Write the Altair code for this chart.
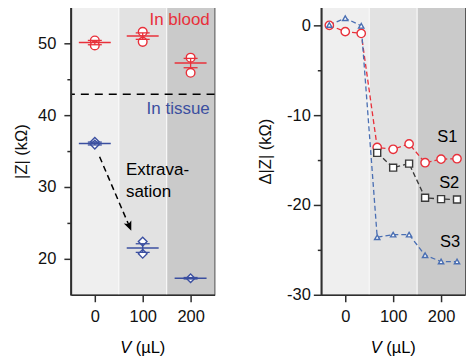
import altair as alt
import pandas as pd

FONT = "Liberation Sans"
RED = "#e8303a"
BLUE_T = "#3b4fa0"
BLUE_S3 = "#4a6fb3"
GRAY = "#3a3a3a"
FRAME = "#2e2e2e"

# ---------------- data ----------------
band_start = [-50, 50, 150]
band_end = [50, 150, 250]
band_color = ["#efefef", "#e2e2e2", "#cacaca"]

volumes = [0, 100, 200]
blood_pt_v = [0, 0, 100, 100, 200, 200]
blood_pt_z = [50.4, 49.7, 51.6, 50.2, 48.0, 45.9]
blood_mean = [50.1, 51.0, 47.25]
blood_err = [0.3, 0.45, 0.65]

tissue_pt_v = [0, 0, 100, 100, 200]
tissue_pt_z = [36.3, 35.9, 22.4, 20.7, 17.3]
tissue_mean = [36.05, 21.5, 17.3]
tissue_err = [0.2, 0.6, 0.1]

threshold = [42.9]

v_steps = [-33.3, 0, 33.3, 66.7, 100, 133.3, 166.7, 200, 233.3]
s1 = [0.0, -0.7, -0.9, -13.6, -13.8, -13.2, -15.3, -14.9, -14.85]
s2 = [None, None, None, -14.2, -15.85, -15.4, -19.2, -19.35, -19.4]
s3 = [0.05, 0.8, -0.05, -23.6, -23.3, -23.3, -25.6, -26.3, -26.3]
series_names = ["S1", "S2", "S3"]

left_notes = ["In blood", "In tissue"]
left_notes_v = [240, 240]
left_notes_z = [53.3, 40.8]
left_notes_c = [RED, BLUE_T]

extra_lines = ["Extrava-", "sation"]
extra_v = [65, 65]
extra_z = [32.3, 29.3]

arrow_start = (10, 34.2)
arrow_head = (71.7, 24.6)

s_label_v = [213, 217, 219]
s_label_d = [-12.4, -17.6, -24.1]

# ---------------- tables ----------------
bands_df = pd.DataFrame({"x0": band_start, "x1": band_end, "c": band_color})
seps_df = pd.DataFrame({"x": band_end[:-1]})

blood_pts = pd.DataFrame({"v": blood_pt_v, "z": blood_pt_z})
tissue_pts = pd.DataFrame({"v": tissue_pt_v, "z": tissue_pt_z})
blood_stats = pd.DataFrame({"v": volumes, "m": blood_mean, "e": blood_err})
tissue_stats = pd.DataFrame({"v": volumes, "m": tissue_mean, "e": tissue_err})

rows = []
for name, vals in zip(series_names, [s1, s2, s3]):
    for v, d in zip(v_steps, vals):
        if d is not None:
            rows.append({"series": name, "v": v, "d": d})
right_df = pd.DataFrame(rows)

W, H = 144, 288

xs = alt.Scale(domain=[-50, 250], nice=False, zero=False)
ys_l = alt.Scale(domain=[15, 55], nice=False, zero=False)
ys_r = alt.Scale(domain=[-30, 2], nice=False, zero=False)

label_expr = "datum.value % 10 == 0 ? '' + datum.value : ''"


def tick_size(major):
    return {"condition": {"test": "datum.value % 10 != 0", "value": 4}, "value": major}


def x_axis():
    return alt.Axis(values=[0, 100, 200], title=None, tickSize=7, labelPadding=7,
                    grid=False, zindex=1, labelFontSize=16.5, labelFont=FONT)


def bands_layer():
    b = alt.Chart(bands_df).mark_rect().encode(
        x=alt.X("x0:Q", scale=xs, axis=x_axis()),
        x2="x1:Q",
        color=alt.Color("c:N", scale=None),
    )
    s = alt.Chart(seps_df).mark_rule(color="#f8f8f8", strokeWidth=1.2).encode(
        x=alt.X("x:Q", scale=xs)
    )
    return b + s


def v_title():
    df = pd.DataFrame({"t": ["V", "(µL)"], "a": ["right", "left"]})
    a = alt.Chart(df).transform_filter("datum.a == 'right'").mark_text(
        align="right", baseline="middle", fontSize=16.5, font=FONT, fontStyle="italic",
        color="black").encode(x=alt.value(W / 2 - 11.5), y=alt.value(H + 53.5), text="t:N")
    b = alt.Chart(df).transform_filter("datum.a == 'left'").mark_text(
        align="left", baseline="middle", fontSize=16.5, font=FONT,
        color="black").encode(x=alt.value(W / 2 - 7), y=alt.value(H + 53.5), text="t:N")
    return a + b


def stat_layers(stats, color):
    base = alt.Chart(stats).transform_calculate(lo="datum.m - datum.e", hi="datum.m + datum.e")
    mean = base.mark_tick(orient="horizontal", size=32, thickness=1.5, color=color, opacity=1).encode(
        x=alt.X("v:Q", scale=xs), y=alt.Y("m:Q", scale=ys_l))
    lo = base.mark_tick(orient="horizontal", size=14, thickness=1.3, color=color, opacity=1).encode(
        x=alt.X("v:Q", scale=xs), y=alt.Y("lo:Q", scale=ys_l))
    hi = base.mark_tick(orient="horizontal", size=14, thickness=1.3, color=color, opacity=1).encode(
        x=alt.X("v:Q", scale=xs), y=alt.Y("hi:Q", scale=ys_l))
    vert = base.mark_rule(strokeWidth=1.3, color=color).encode(
        x=alt.X("v:Q", scale=xs), y=alt.Y("lo:Q", scale=ys_l), y2="hi:Q")
    return mean + lo + hi + vert


# ---------------- left panel ----------------
y_axis_l = alt.Axis(values=[20, 25, 30, 35, 40, 45, 50], tickSize=tick_size(7),
                    labelExpr=label_expr, title="|Z| (kΩ)", titleFontSize=16.5,
                    titleFont=FONT, titleFontWeight="normal", titlePadding=8,
                    labelPadding=8, grid=False, zindex=1, labelFontSize=16.5, labelFont=FONT)

thr = alt.Chart(pd.DataFrame({"z": threshold})).mark_rule(
    strokeDash=[8, 6], strokeWidth=1.5, color="black").encode(
    y=alt.Y("z:Q", scale=ys_l, axis=y_axis_l))

bp = alt.Chart(blood_pts).mark_point(shape="circle", filled=True, fill="white", stroke=RED,
                                     strokeWidth=1.4, size=75, opacity=1).encode(
    x=alt.X("v:Q", scale=xs), y=alt.Y("z:Q", scale=ys_l))
tp = alt.Chart(tissue_pts).mark_point(shape="diamond", filled=True, fill="white", stroke=BLUE_T,
                                      strokeWidth=1.4, size=75, opacity=1).encode(
    x=alt.X("v:Q", scale=xs), y=alt.Y("z:Q", scale=ys_l))

notes = alt.Chart(pd.DataFrame({"t": left_notes, "v": left_notes_v, "z": left_notes_z,
                                "c": left_notes_c})).mark_text(
    align="right", baseline="middle", fontSize=17, font=FONT).encode(
    x=alt.X("v:Q", scale=xs), y=alt.Y("z:Q", scale=ys_l), text="t:N",
    color=alt.Color("c:N", scale=None))

extra = alt.Chart(pd.DataFrame({"t": extra_lines, "v": extra_v, "z": extra_z})).mark_text(
    align="left", baseline="middle", fontSize=17, font=FONT, color="black").encode(
    x=alt.X("v:Q", scale=xs), y=alt.Y("z:Q", scale=ys_l), text="t:N")

arrow_df = pd.DataFrame({"v0": [arrow_start[0]], "z0": [arrow_start[1]],
                         "v1": [arrow_head[0]], "z1": [arrow_head[1]]})
arrow_line = alt.Chart(arrow_df).mark_rule(strokeDash=[6, 4], strokeWidth=1.5, color="black").encode(
    x=alt.X("v0:Q", scale=xs), y=alt.Y("z0:Q", scale=ys_l), x2="v1:Q", y2="z1:Q")
arrow_tip = alt.Chart(arrow_df).mark_point(
    shape="M0,-1L0.75,0.75L0,0.35L-0.75,0.75Z", filled=True, color="black", opacity=1,
    size=120, angle=157).encode(x=alt.X("v1:Q", scale=xs), y=alt.Y("z1:Q", scale=ys_l))

left = alt.layer(
    bands_layer(), thr, bp, tp,
    stat_layers(blood_stats, RED), stat_layers(tissue_stats, BLUE_T),
    notes, extra, arrow_line, arrow_tip, v_title()
).properties(width=W, height=H)

# ---------------- right panel ----------------
y_axis_r = alt.Axis(values=[-30, -25, -20, -15, -10, -5, 0], tickSize=tick_size(8),
                    labelExpr=label_expr, title="Δ|Z| (kΩ)", titleFontSize=16.5,
                    titleFont=FONT, titleFontWeight="normal", titlePadding=13,
                    labelPadding=3, grid=False, zindex=1, labelFontSize=16.5, labelFont=FONT)

color_s = alt.Color("series:N", scale=alt.Scale(domain=series_names, range=[RED, GRAY, BLUE_S3]),
                    legend=None)
lines = alt.Chart(right_df).mark_line(strokeDash=[5, 3], strokeWidth=1.3).encode(
    x=alt.X("v:Q", scale=xs), y=alt.Y("d:Q", scale=ys_r, axis=y_axis_r), color=color_s,
    order="v:Q")
pts = alt.Chart(right_df).mark_point(filled=True, fill="white", strokeWidth=1.4, opacity=1).encode(
    x=alt.X("v:Q", scale=xs), y=alt.Y("d:Q", scale=ys_r),
    stroke=alt.Stroke("series:N", scale=alt.Scale(domain=series_names, range=[RED, GRAY, BLUE_S3]),
                      legend=None),
    shape=alt.Shape("series:N", scale=alt.Scale(domain=series_names,
                                                range=["circle", "square", "triangle-up"]),
                    legend=None),
    size=alt.Size("series:N", scale=alt.Scale(domain=series_names, range=[70, 28, 150]),
                  legend=None),
)
s_labels = alt.Chart(pd.DataFrame({"t": series_names, "v": s_label_v, "d": s_label_d})).mark_text(
    align="center", baseline="middle", fontSize=16.5, font=FONT, color="black").encode(
    x=alt.X("v:Q", scale=xs), y=alt.Y("d:Q", scale=ys_r), text="t:N")

right = alt.layer(bands_layer(), lines, pts, s_labels, v_title()).properties(width=W, height=H)

chart = alt.hconcat(left, right, spacing=40).properties(
    padding={"left": 4, "top": -3, "right": 0, "bottom": 0}
).configure_view(stroke=FRAME, strokeWidth=1.6).configure_axis(
    domainColor=FRAME, domainWidth=1.6, tickColor=FRAME, tickWidth=1.5,
    labelColor="#111", titleColor="#111"
).resolve_scale(color="independent")

chart.save("out.html", embed_options={"renderer": "svg", "actions": False})
